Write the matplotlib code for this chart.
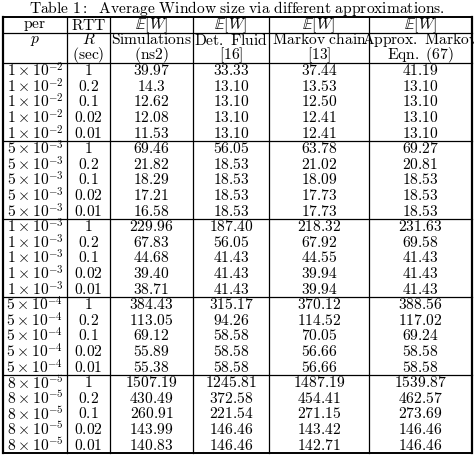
import matplotlib
matplotlib.use("Agg")
import matplotlib.pyplot as plt
from matplotlib.lines import Line2D

plt.rcParams['mathtext.fontset'] = 'cm'

p_labels = [r"1 \times 10^{-2}", r"5 \times 10^{-3}", r"1 \times 10^{-3}", r"5 \times 10^{-4}", r"8 \times 10^{-5}"]
rtt = ["1", "0.2", "0.1", "0.02", "0.01"]
sim = ["39.97","14.3","12.62","12.08","11.53",
       "69.46","21.82","18.29","17.21","16.58",
       "229.96","67.83","44.68","39.40","38.71",
       "384.43","113.05","69.12","55.89","55.38",
       "1507.19","430.49","260.91","143.99","140.83"]
fluid = ["33.33","13.10","13.10","13.10","13.10",
         "56.05","18.53","18.53","18.53","18.53",
         "187.40","56.05","41.43","41.43","41.43",
         "315.17","94.26","58.58","58.58","58.58",
         "1245.81","372.58","221.54","146.46","146.46"]
markov = ["37.44","13.53","12.50","12.41","12.41",
          "63.78","21.02","18.09","17.73","17.73",
          "218.32","67.92","44.55","39.94","39.94",
          "370.12","114.52","70.05","56.66","56.66",
          "1487.19","454.41","271.15","143.42","142.71"]
approx = ["41.19","13.10","13.10","13.10","13.10",
          "69.27","20.81","18.53","18.53","18.53",
          "231.63","69.58","41.43","41.43","41.43",
          "388.56","117.02","69.24","58.58","58.58",
          "1539.87","462.57","273.69","146.46","146.46"]
EW = r"\mathbb{E}\mathrm{[}W\mathrm{]}"
header1 = [r"\mathrm{per}", r"\mathrm{RTT}", EW, EW, EW, EW]
header2 = [r"p", r"R", r"\mathrm{Simulations}", r"\mathrm{Det.\ Fluid}", r"\mathrm{Markov\ chain}", r"\mathrm{Approx.\ Markov}"]
header3 = ["", r"\mathrm{(sec)}", r"\mathrm{(ns2)}", r"\mathrm{[16]}", r"\mathrm{[13]}", r"\mathrm{Eqn.\ (67)}"]
title = r"$\mathrm{Table\ 1{:}\ \ Average\ Window\ size\ via\ different\ approximations.}$"

W, H = 474, 455
fig = plt.figure(figsize=(W/100, H/100), dpi=100)
ax = fig.add_axes([0, 0, 1, 1])
ax.set_xlim(0, W); ax.set_ylim(H, 0); ax.axis('off')

xs = [3, 67, 110, 193, 269, 369, 472]
top, h1, hb, bot = 17, 32.5, 63, 453
rh = (bot - hb) / 25
fs = 11.2

def line(x0, x1, y0, y1, lw=0.9):
    ax.add_line(Line2D([x0, x1], [y0, y1], color='black', lw=lw))

ax.text(W/2, 8, title, ha='center', va='center', fontsize=fs)
for x in xs:
    line(x, x, top, bot, 1.6 if x in (xs[0], xs[-1]) else 0.9)
line(xs[0], xs[-1], top, top, 1.4)
line(xs[0], xs[-1], bot, bot, 1.4)
line(xs[0], xs[-1], h1, h1)
line(xs[0], xs[-1], hb, hb)
for g in range(1, 5):
    y = hb + g*5*rh
    line(xs[0], xs[-1], y, y)

cx = [(xs[i]+xs[i+1])/2 for i in range(6)]
for i in range(6):
    ax.text(cx[i], (top+h1)/2 + 0.5, "$" + header1[i] + "$", ha='center', va='center', fontsize=fs)
    ax.text(cx[i], h1 + 7.5, "$" + header2[i] + "$", ha='center', va='center', fontsize=fs)
    if header3[i]:
        ax.text(cx[i], h1 + 22.5, "$" + header3[i] + "$", ha='center', va='center', fontsize=fs)

for r in range(25):
    y = hb + (r + 0.5)*rh
    vals = [p_labels[r//5], rtt[r % 5], sim[r], fluid[r], markov[r], approx[r]]
    for i, v in enumerate(vals):
        s = "$" + v + "$" if i == 0 else r"$\mathrm{" + v + "}$"
        ax.text(cx[i], y, s, ha='center', va='center', fontsize=fs)

fig.savefig("out.png", dpi=100)
